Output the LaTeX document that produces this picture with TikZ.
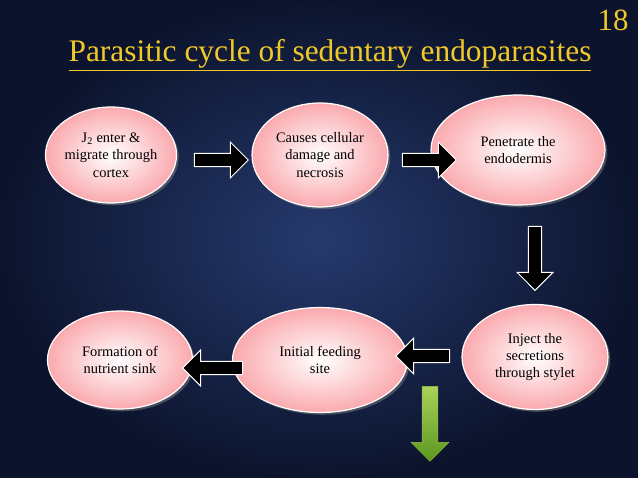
\documentclass[tikz,border=0pt]{standalone}
\usepackage{fontspec}
\setmainfont{Liberation Serif}
\usetikzlibrary{shapes.arrows,shapes.geometric,shadows}
\definecolor{bgc}{RGB}{38,58,110}
\definecolor{bgd}{RGB}{12,20,45}
\definecolor{ttl}{RGB}{240,200,40}
\tikzset{
 oval/.style={ellipse,draw=white,line width=1.2pt,inner color=white,outer color={rgb,255:red,250;green,170;blue,175},align=center,font=\fontsize{14.5}{17.5}\selectfont,text=black,drop shadow={opacity=0.5},inner sep=0pt},
 blk/.style={single arrow,draw=white,line width=1pt,fill=black,minimum height=54pt,minimum width=36pt,single arrow head extend=6pt,inner sep=3pt}
}
\begin{document}
\begin{tikzpicture}[x=1bp,y=-1bp]
\useasboundingbox (0,0) rectangle (638,478);
\fill[inner color=bgc,outer color=bgd] (0,0) rectangle (638,478);
\node[text=ttl,font=\fontsize{31}{34}\selectfont] (n) at (613,20) {18};
\node[text=ttl,font=\fontsize{31.5}{34}\selectfont] (t) at (330,55) {\underline{Parasitic cycle of sedentary endoparasites}};
\node[oval,minimum width=126bp,minimum height=96bp] (a) at (111,155) {J\textsubscript{2} enter \&\\migrate through\\cortex};
\node[oval,minimum width=136bp,minimum height=104bp] (b) at (320,155) {Causes cellular\\damage and\\necrosis};
\node[oval,minimum width=174bp,minimum height=110bp] (c) at (518,150) {Penetrate the\\endodermis};
\node[oval,minimum width=146bp,minimum height=105bp] (d) at (535,357) {Inject the\\secretions\\through stylet};
\node[oval,minimum width=175bp,minimum height=105bp] (e) at (320,360) {Initial feeding\\site};
\node[oval,minimum width=145bp,minimum height=98bp] (f) at (120,360) {Formation of\\nutrient sink};
\node[blk] (a1) at (218,160) {};
\node[blk] (a2) at (426,160) {};
\node[blk,shape border rotate=270,minimum height=64bp] (a3) at (535,255) {};
\node[blk,shape border rotate=180] (a4) at (426,356) {};
\node[blk,shape border rotate=180,minimum height=60bp] (a5) at (216,368) {};
\node[single arrow,shape border rotate=270,draw={rgb,255:red,150;green,190;blue,60},top color={rgb,255:red,170;green,210;blue,90},bottom color={rgb,255:red,90;green,150;blue,30},minimum height=75bp,minimum width=38bp,single arrow head extend=5bp] (g) at (430,420) {};
\end{tikzpicture}
\end{document}
